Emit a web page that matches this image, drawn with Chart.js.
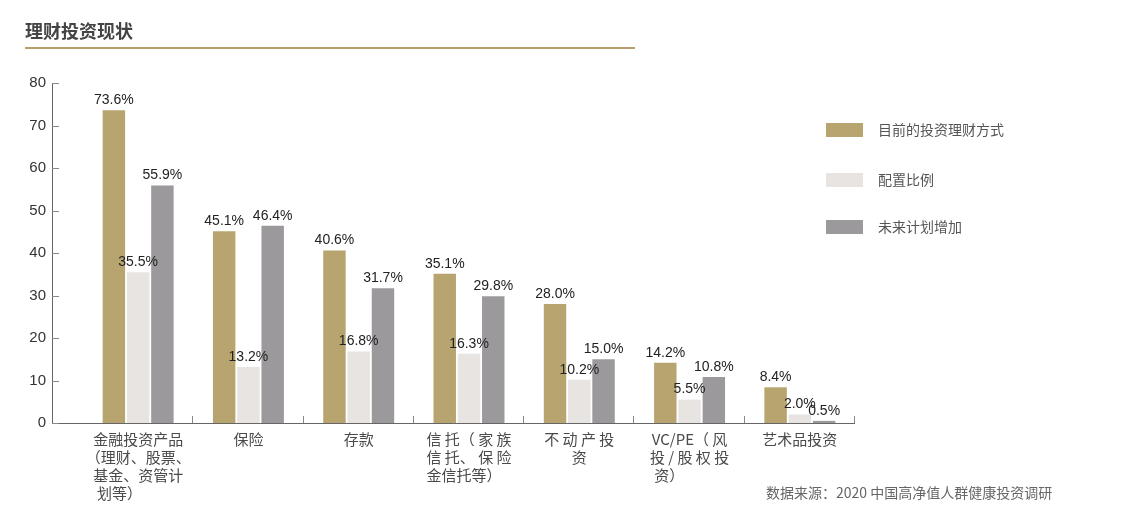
<!DOCTYPE html>
<html>
<head>
<meta charset="utf-8">
<script src="https://cdn.jsdelivr.net/npm/chart.js@4/dist/chart.umd.min.js"></script>
<style>
html,body{margin:0;padding:0;background:#fff;}
#wrap{position:relative;width:1127px;height:532px;}
canvas{display:block;}
</style>
</head>
<body>
<div id="wrap"><canvas id="c" width="1127" height="532"></canvas></div>
<script>
// ---- data ----
const titleText = '理财投资现状';
const sourceText = '数据来源：2020 中国高净值人群健康投资调研';
const categories = [
  ['金融投资产品', '（理财、股票、', '基金、资管计', '划等）\u3000\u3000\u3000'],
  ['保险'],
  ['存款'],
  ['信 托（ 家 族', '信 托、 保 险', '金信托等）   '],
  ['不 动 产 投', '资'],
  ['VC/PE（ 风', '投 / 股 权 投', '资）\u3000\u3000\u3000 '],
  ['艺术品投资']
];
const seriesNames = ['目前的投资理财方式', '配置比例', '未来计划增加'];
const currentWay = [73.6, 45.1, 40.6, 35.1, 28.0, 14.2, 8.4];
const allocation = [35.5, 13.2, 16.8, 16.3, 10.2, 5.5, 2.0];
const planIncrease = [55.9, 46.4, 31.7, 29.8, 15.0, 10.8, 0.5];
const yTicks = [0, 10, 20, 30, 40, 50, 60, 70, 80];
const colors = ['#b8a46f', '#e8e4e2', '#9b999b'];

const CJK = "'Noto Sans CJK SC', 'Noto Sans', sans-serif";
const LAT = "'Liberation Sans', Arial, sans-serif";

const decorPlugin = {
  id: 'decor',
  afterDraw(chart) {
    const ctx = chart.ctx;
    const x = chart.scales.x, y = chart.scales.y;
    const ca = chart.chartArea;
    ctx.save();
    // title
    ctx.fillStyle = '#444';
    ctx.font = 'bold 18px ' + CJK;
    ctx.textBaseline = 'middle';
    ctx.textAlign = 'left';
    ctx.fillText(titleText, 25, 31);
    ctx.fillStyle = '#b5a06a';
    ctx.fillRect(25, 47, 610, 2);
    // axes
    const axisX = 52;
    const y0 = y.getPixelForValue(0);
    ctx.strokeStyle = '#666';
    ctx.lineWidth = 1;
    ctx.beginPath();
    ctx.moveTo(axisX + 0.5, y.getPixelForValue(80));
    ctx.lineTo(axisX + 0.5, y0 + 0.5);
    ctx.lineTo(ca.right, y0 + 0.5);
    ctx.stroke();
    ctx.strokeStyle = '#888';
    ctx.beginPath();
    yTicks.forEach(v => {
      const py = Math.round(y.getPixelForValue(v)) + 0.5;
      ctx.moveTo(axisX, py);
      ctx.lineTo(axisX + 7, py);
    });
    const n = categories.length;
    for (let i = 1; i <= n; i++) {
      const px = i < n ? (x.getPixelForValue(i - 1) + x.getPixelForValue(i)) / 2 : ca.right;
      const rx = Math.round(px) - 0.5;
      ctx.moveTo(rx, y0);
      ctx.lineTo(rx, y0 - 7);
    }
    ctx.stroke();
    // value labels
    ctx.fillStyle = '#222';
    ctx.font = '14px ' + LAT;
    ctx.textAlign = 'center';
    ctx.textBaseline = 'bottom';
    chart.data.datasets.forEach((ds, di) => {
      const meta = chart.getDatasetMeta(di);
      meta.data.forEach((bar, i) => {
        ctx.fillText(ds.data[i].toFixed(1) + '%', bar.x, bar.y - 3);
      });
    });
    // legend
    const legendY = [130, 180, 227];
    ctx.font = '14px ' + CJK;
    ctx.textAlign = 'left';
    ctx.textBaseline = 'middle';
    chart.data.datasets.forEach((ds, di) => {
      ctx.fillStyle = ds.backgroundColor;
      ctx.fillRect(826, legendY[di] - 7, 37, 14);
      ctx.fillStyle = '#555';
      ctx.fillText(ds.label, 878, legendY[di]);
    });
    // source
    ctx.fillStyle = '#666';
    ctx.font = '14px ' + CJK;
    ctx.fillText(sourceText, 766, 493);
    ctx.restore();
  }
};

new Chart(document.getElementById('c'), {
  type: 'bar',
  data: {
    labels: categories,
    datasets: [
      { label: seriesNames[0], data: currentWay, backgroundColor: colors[0] },
      { label: seriesNames[1], data: allocation, backgroundColor: colors[1] },
      { label: seriesNames[2], data: planIncrease, backgroundColor: colors[2] }
    ]
  },
  options: {
    responsive: false,
    devicePixelRatio: 1,
    animation: false,
    layout: { padding: { left: 23, right: 272, top: 83, bottom: 0 } },
    datasets: { bar: { categoryPercentage: 0.66, barPercentage: 0.925 } },
    plugins: { legend: { display: false }, tooltip: { enabled: false }, title: { display: false } },
    scales: {
      x: {
        grid: { display: false, drawTicks: false },
        border: { display: false },
        ticks: { color: '#4a4a4a', font: { family: CJK, size: 15, lineHeight: 1.2 }, padding: 7, maxRotation: 0, autoSkip: false },
        afterFit(s) { s.height = 109; }
      },
      y: {
        min: 0, max: 80,
        grid: { display: false, drawTicks: false },
        border: { display: false },
        ticks: { stepSize: 10, color: '#333', font: { family: LAT, size: 15 }, padding: 37 },
        afterFit(s) { s.width = 60; }
      }
    }
  },
  plugins: [decorPlugin]
});
</script>
</body>
</html>
